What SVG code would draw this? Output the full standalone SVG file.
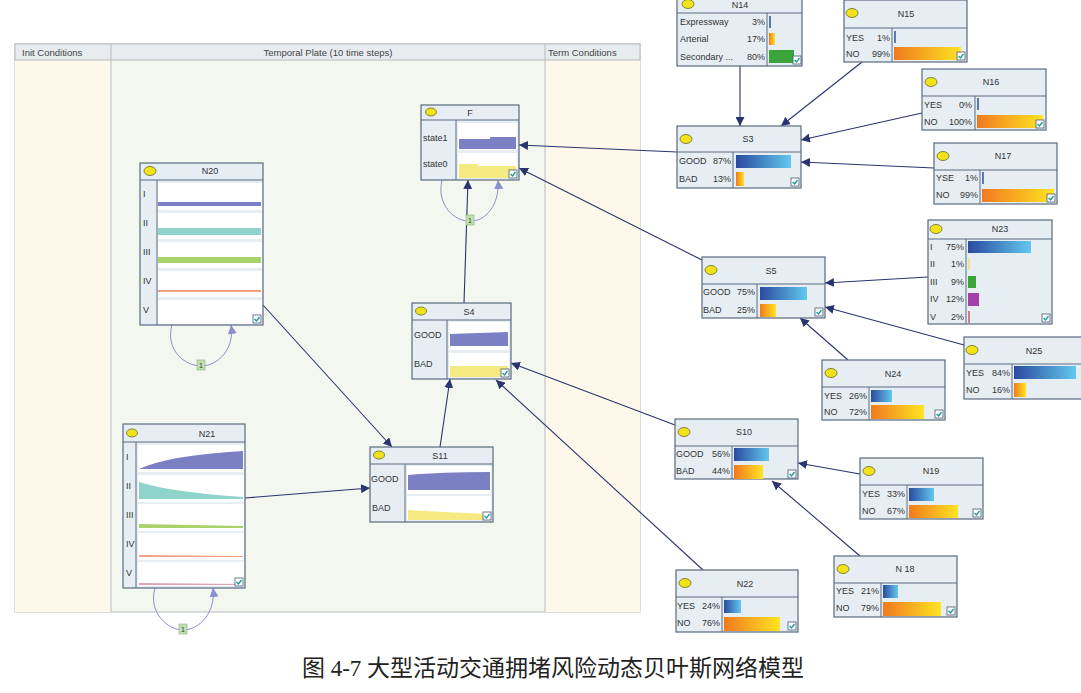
<svg xmlns="http://www.w3.org/2000/svg" width="1081" height="693" viewBox="0 0 1081 693">
<defs>
<linearGradient id="gb" x1="0" x2="1"><stop offset="0" stop-color="#2a4aa0"/><stop offset="1" stop-color="#62c8ee"/></linearGradient>
<linearGradient id="go" x1="0" x2="1"><stop offset="0" stop-color="#f07a1e"/><stop offset="1" stop-color="#ffe422"/></linearGradient>
<marker id="ar" viewBox="0 0 10 10" refX="10" refY="5" markerWidth="9" markerHeight="9" orient="auto" markerUnits="userSpaceOnUse"><path d="M0,0L10,5L0,10z" fill="#2a3470"/></marker>
<marker id="al" viewBox="0 0 10 10" refX="10" refY="5" markerWidth="9" markerHeight="9" orient="auto" markerUnits="userSpaceOnUse"><path d="M0,0L10,5L0,10z" fill="#8a8fd0"/></marker>
</defs>
<style>
.box{fill:#e6eef3;stroke:#5a6a80;stroke-width:1.2}
.tl{stroke:#5a6a80;stroke-width:1}
.ic{fill:#f2e21a;stroke:#6a6a30;stroke-width:0.8}
text{font-family:"Liberation Sans",Arial,sans-serif;font-size:9px;fill:#333}
.tt{text-anchor:middle}
.r{text-anchor:end}
.chk{fill:#fff;stroke:#4a5a70;stroke-width:0.8}
.ck{fill:none;stroke:#1a9a9a;stroke-width:1.3}
.cn{stroke:#2a3470;stroke-width:1.1;fill:none;marker-end:url(#ar)}
.lp{stroke:#8a8fd0;stroke-width:1;fill:none;marker-end:url(#al)}
.lb{fill:#bfe0b0;stroke:#8ab080;stroke-width:0.6}
.wh{fill:#fff}
.hd{font-size:9.5px;fill:#444}
</style>
<rect width="1081" height="693" fill="#fff"/>
<g id="plate">
<rect x="15" y="44" width="625" height="568" fill="#f3f7ef" stroke="#b8bcc0"/>
<rect x="15" y="60" width="96" height="552" fill="#fdf8ea"/>
<rect x="545" y="60" width="95" height="552" fill="#fdf8ea"/>
<rect x="15" y="44" width="625" height="16" fill="#e8ecef" stroke="#b8bcc0"/>
<line x1="111" y1="44" x2="111" y2="612" stroke="#b8bcc0"/>
<line x1="545" y1="44" x2="545" y2="612" stroke="#b8bcc0"/>
<text x="22" y="56" class="hd">Init Conditions</text>
<text x="328" y="56" class="hd tt">Temporal Plate (10 time steps)</text>
<text x="548" y="56" class="hd">Term Conditions</text>
</g>
<g id="connectors">
<line class="cn" x1="740" y1="66" x2="740" y2="126"/>
<line class="cn" x1="862" y1="62" x2="781" y2="126"/>
<line class="cn" x1="922" y1="113" x2="801" y2="140"/>
<line class="cn" x1="934" y1="168" x2="801" y2="162"/>
<line class="cn" x1="677" y1="152" x2="519" y2="145"/>
<line class="cn" x1="702" y1="260" x2="519" y2="168"/>
<line class="cn" x1="928" y1="277" x2="825" y2="283"/>
<line class="cn" x1="964" y1="345" x2="825" y2="307"/>
<line class="cn" x1="848" y1="360" x2="800" y2="318"/>
<line class="cn" x1="675" y1="425" x2="511" y2="363"/>
<line class="cn" x1="860" y1="474" x2="798" y2="463"/>
<line class="cn" x1="860" y1="556" x2="772" y2="481"/>
<line class="cn" x1="703" y1="570" x2="496" y2="380"/>
<line class="cn" x1="263" y1="305" x2="392" y2="447"/>
<line class="cn" x1="245" y1="498" x2="370" y2="488"/>
<line class="cn" x1="440" y1="447" x2="450" y2="379"/>
<line class="cn" x1="464" y1="303" x2="468" y2="180"/>
<path class="lp" d="M442,180 C436,205 455,222 470,221 C485,222 500,205 498,180"/>
<path class="lp" d="M172,325 C165,350 185,366 201,366 C217,366 235,350 231,325"/>
<path class="lp" d="M155,588 C148,613 168,630 183,630 C199,630 216,613 213,588"/>
<rect class="lb" x="466" y="215" width="8" height="10"/><text x="470" y="223" class="tt" style="font-size:7px">1</text>
<rect class="lb" x="197" y="360" width="8" height="10"/><text x="201" y="368" class="tt" style="font-size:7px">1</text>
<rect class="lb" x="179" y="624" width="8" height="10"/><text x="183" y="632" class="tt" style="font-size:7px">1</text>
</g>

<g id="N14"><rect class="box" x="677" y="-4" width="125" height="70"/><line class="tl" x1="677" y1="13" x2="802" y2="13"/><line class="tl" x1="767" y1="13" x2="767" y2="66"/>
<ellipse class="ic" cx="688" cy="4" rx="6" ry="4.5"/><text x="740" y="8" class="tt">N14</text>
<text x="680" y="25">Expressway</text><text x="765" y="25" class="r">3%</text>
<text x="680" y="42">Arterial</text><text x="765" y="42" class="r">17%</text>
<text x="680" y="60">Secondary ...</text><text x="765" y="60" class="r">80%</text>
<rect x="769" y="16" width="2" height="12" fill="#5a7ab0"/><rect x="769" y="33" width="6" height="12" fill="url(#go)"/><rect x="769" y="50" width="25" height="13" fill="#3aa53a"/>
<rect class="chk" x="793" y="56" width="8" height="8"/><path class="ck" d="M794.5,60 l2,2 l3,-4"/></g>

<g id="N15"><rect class="box" x="844" y="0" width="123" height="62"/><line class="tl" x1="844" y1="28" x2="967" y2="28"/><line class="tl" x1="892" y1="28" x2="892" y2="62"/>
<ellipse class="ic" cx="852" cy="13" rx="6" ry="4.5"/><text x="906" y="17" class="tt">N15</text>
<text x="846" y="41">YES</text><text x="890" y="41" class="r">1%</text><text x="846" y="57">NO</text><text x="890" y="57" class="r">99%</text>
<rect x="894" y="31" width="2" height="12" fill="#5a7ab0"/><rect x="894" y="47" width="67" height="13" fill="url(#go)"/>
<rect class="chk" x="957" y="52" width="8" height="8"/><path class="ck" d="M958.5,56 l2,2 l3,-4"/></g>

<g id="N16"><rect class="box" x="922" y="69" width="124" height="61"/><line class="tl" x1="922" y1="96" x2="1046" y2="96"/><line class="tl" x1="975" y1="96" x2="975" y2="130"/>
<ellipse class="ic" cx="931" cy="82" rx="6" ry="4.5"/><text x="991" y="85" class="tt">N16</text>
<text x="924" y="108">YES</text><text x="972" y="108" class="r">0%</text><text x="924" y="125">NO</text><text x="972" y="125" class="r">100%</text>
<rect x="977" y="98" width="2" height="12" fill="#5a7ab0"/><rect x="977" y="115" width="66" height="13" fill="url(#go)"/>
<rect class="chk" x="1036" y="120" width="8" height="8"/><path class="ck" d="M1037.5,124 l2,2 l3,-4"/></g>

<g id="N17"><rect class="box" x="934" y="143" width="123" height="61"/><line class="tl" x1="934" y1="170" x2="1057" y2="170"/><line class="tl" x1="980" y1="170" x2="980" y2="204"/>
<ellipse class="ic" cx="943" cy="156" rx="6" ry="4.5"/><text x="1003" y="159" class="tt">N17</text>
<text x="936" y="181">YSE</text><text x="978" y="181" class="r">1%</text><text x="936" y="198">NO</text><text x="978" y="198" class="r">99%</text>
<rect x="982" y="172" width="2" height="12" fill="#5a7ab0"/><rect x="982" y="189" width="72" height="13" fill="url(#go)"/>
<rect class="chk" x="1047" y="194" width="8" height="8"/><path class="ck" d="M1048.5,198 l2,2 l3,-4"/></g>

<g id="S3"><rect class="box" x="677" y="126" width="124" height="62"/><line class="tl" x1="677" y1="152" x2="801" y2="152"/><line class="tl" x1="733" y1="152" x2="733" y2="188"/>
<ellipse class="ic" cx="686" cy="139" rx="6" ry="4.5"/><text x="748" y="142" class="tt">S3</text>
<text x="679" y="164">GOOD</text><text x="731" y="164" class="r">87%</text><text x="679" y="182">BAD</text><text x="731" y="182" class="r">13%</text>
<rect x="736" y="155" width="55" height="13" fill="url(#gb)"/><rect x="736" y="172" width="8" height="14" fill="url(#go)"/>
<rect class="chk" x="791" y="178" width="8" height="8"/><path class="ck" d="M792.5,182 l2,2 l3,-4"/></g>

<g id="N23"><rect class="box" x="928" y="220" width="124" height="104"/><line class="tl" x1="928" y1="239" x2="1052" y2="239"/><line class="tl" x1="966" y1="239" x2="966" y2="324"/>
<ellipse class="ic" cx="936" cy="229" rx="6" ry="4.5"/><text x="1000" y="232" class="tt">N23</text>
<text x="930" y="250">I</text><text x="964" y="250" class="r">75%</text>
<text x="930" y="267">II</text><text x="964" y="267" class="r">1%</text>
<text x="930" y="285">III</text><text x="964" y="285" class="r">9%</text>
<text x="930" y="302">IV</text><text x="964" y="302" class="r">12%</text>
<text x="930" y="320">V</text><text x="964" y="320" class="r">2%</text>
<rect x="968" y="241" width="63" height="12" fill="url(#gb)"/><rect x="968" y="258" width="2" height="12" fill="#f8e080"/><rect x="968" y="276" width="8" height="12" fill="#3aa53a"/><rect x="968" y="293" width="11" height="13" fill="#a040a8"/><rect x="968" y="311" width="2" height="12" fill="#d08080"/>
<rect class="chk" x="1042" y="314" width="8" height="8"/><path class="ck" d="M1043.5,318 l2,2 l3,-4"/></g>

<g id="S5"><rect class="box" x="702" y="257" width="123" height="61"/><line class="tl" x1="702" y1="284" x2="825" y2="284"/><line class="tl" x1="757" y1="284" x2="757" y2="318"/>
<ellipse class="ic" cx="711" cy="270" rx="6" ry="4.5"/><text x="771" y="274" class="tt">S5</text>
<text x="703" y="295">GOOD</text><text x="755" y="295" class="r">75%</text><text x="703" y="313">BAD</text><text x="755" y="313" class="r">25%</text>
<rect x="760" y="287" width="47" height="13" fill="url(#gb)"/><rect x="760" y="304" width="16" height="13" fill="url(#go)"/>
<rect class="chk" x="815" y="308" width="8" height="8"/><path class="ck" d="M816.5,312 l2,2 l3,-4"/></g>

<g id="N24"><rect class="box" x="822" y="360" width="123" height="60"/><line class="tl" x1="822" y1="387" x2="945" y2="387"/><line class="tl" x1="869" y1="387" x2="869" y2="420"/>
<ellipse class="ic" cx="831" cy="373" rx="6" ry="4.5"/><text x="893" y="377" class="tt">N24</text>
<text x="824" y="399">YES</text><text x="867" y="399" class="r">26%</text><text x="824" y="415">NO</text><text x="867" y="415" class="r">72%</text>
<rect x="871" y="390" width="21" height="12" fill="url(#gb)"/><rect x="871" y="405" width="53" height="14" fill="url(#go)"/>
<rect class="chk" x="935" y="410" width="8" height="8"/><path class="ck" d="M936.5,414 l2,2 l3,-4"/></g>

<g id="N25"><rect class="box" x="964" y="337" width="122" height="62"/><line class="tl" x1="964" y1="364" x2="1086" y2="364"/><line class="tl" x1="1012" y1="364" x2="1012" y2="399"/>
<ellipse class="ic" cx="972" cy="350" rx="6" ry="4.5"/><text x="1034" y="354" class="tt">N25</text>
<text x="966" y="376">YES</text><text x="1010" y="376" class="r">84%</text><text x="966" y="393">NO</text><text x="1010" y="393" class="r">16%</text>
<rect x="1014" y="366" width="62" height="13" fill="url(#gb)"/><rect x="1014" y="383" width="12" height="14" fill="url(#go)"/></g>

<g id="S10"><rect class="box" x="675" y="419" width="123" height="60"/><line class="tl" x1="675" y1="446" x2="798" y2="446"/><line class="tl" x1="732" y1="446" x2="732" y2="479"/>
<ellipse class="ic" cx="684" cy="432" rx="6" ry="4.5"/><text x="744" y="435" class="tt">S10</text>
<text x="676" y="457">GOOD</text><text x="730" y="457" class="r">56%</text><text x="676" y="474">BAD</text><text x="730" y="474" class="r">44%</text>
<rect x="734" y="448" width="35" height="13" fill="url(#gb)"/><rect x="734" y="465" width="29" height="14" fill="url(#go)"/>
<rect class="chk" x="788" y="470" width="8" height="8"/><path class="ck" d="M789.5,474 l2,2 l3,-4"/></g>

<g id="N19"><rect class="box" x="860" y="458" width="123" height="61"/><line class="tl" x1="860" y1="485" x2="983" y2="485"/><line class="tl" x1="907" y1="485" x2="907" y2="519"/>
<ellipse class="ic" cx="869" cy="471" rx="6" ry="4.5"/><text x="931" y="474" class="tt">N19</text>
<text x="862" y="497">YES</text><text x="905" y="497" class="r">33%</text><text x="862" y="514">NO</text><text x="905" y="514" class="r">67%</text>
<rect x="909" y="488" width="25" height="13" fill="url(#gb)"/><rect x="909" y="505" width="49" height="13" fill="url(#go)"/>
<rect class="chk" x="973" y="509" width="8" height="8"/><path class="ck" d="M974.5,513 l2,2 l3,-4"/></g>

<g id="N18"><rect class="box" x="834" y="556" width="123" height="61"/><line class="tl" x1="834" y1="583" x2="957" y2="583"/><line class="tl" x1="881" y1="583" x2="881" y2="617"/>
<ellipse class="ic" cx="843" cy="569" rx="6" ry="4.5"/><text x="905" y="572" class="tt">N 18</text>
<text x="836" y="594">YES</text><text x="879" y="594" class="r">21%</text><text x="836" y="611">NO</text><text x="879" y="611" class="r">79%</text>
<rect x="883" y="585" width="15" height="13" fill="url(#gb)"/><rect x="883" y="602" width="58" height="14" fill="url(#go)"/>
<rect class="chk" x="947" y="607" width="8" height="8"/><path class="ck" d="M948.5,611 l2,2 l3,-4"/></g>

<g id="N22"><rect class="box" x="676" y="570" width="122" height="62"/><line class="tl" x1="676" y1="597" x2="798" y2="597"/><line class="tl" x1="722" y1="597" x2="722" y2="632"/>
<ellipse class="ic" cx="685" cy="583" rx="6" ry="4.5"/><text x="745" y="587" class="tt">N22</text>
<text x="677" y="609">YES</text><text x="720" y="609" class="r">24%</text><text x="677" y="626">NO</text><text x="720" y="626" class="r">76%</text>
<rect x="724" y="600" width="17" height="13" fill="url(#gb)"/><rect x="724" y="617" width="56" height="14" fill="url(#go)"/>
<rect class="chk" x="788" y="622" width="8" height="8"/><path class="ck" d="M789.5,626 l2,2 l3,-4"/></g>

<g id="F"><rect class="box" x="421" y="105" width="98" height="75"/><line class="tl" x1="421" y1="120" x2="519" y2="120"/><line class="tl" x1="456" y1="120" x2="456" y2="180"/>
<ellipse class="ic" cx="431" cy="112" rx="5.5" ry="4"/><text x="470" y="116" class="tt">F</text>
<rect class="wh" x="458" y="123" width="59" height="27"/><rect class="wh" x="458" y="153" width="59" height="25"/>
<path d="M459,139 L490,139 L490,137 L516,137 L516,149 L459,149z" fill="#7b7fc4"/>
<path d="M459,164 L478,164 L478,166 L516,166 L516,178 L459,178z" fill="#f5ea82"/>
<text x="423" y="141">state1</text><text x="423" y="167">state0</text>
<rect class="chk" x="509" y="170" width="8" height="8"/><path class="ck" d="M510.5,174 l2,2 l3,-4"/></g>

<g id="N20"><rect class="box" x="140" y="163" width="123" height="162"/><line class="tl" x1="140" y1="180" x2="263" y2="180"/><line class="tl" x1="157" y1="180" x2="157" y2="325"/>
<ellipse class="ic" cx="150" cy="171" rx="6" ry="4.5"/><text x="210" y="174" class="tt">N20</text>
<rect class="wh" x="158" y="183" width="104" height="27"/><rect class="wh" x="158" y="213" width="104" height="26"/><rect class="wh" x="158" y="242" width="104" height="26"/><rect class="wh" x="158" y="271" width="104" height="26"/><rect class="wh" x="158" y="300" width="104" height="24"/>
<rect x="158" y="202" width="103" height="4" fill="#7b7fc4"/><rect x="158" y="228" width="103" height="7" fill="#8fd4cc"/><rect x="158" y="257" width="103" height="6" fill="#a8d26a"/><rect x="158" y="290" width="103" height="2" fill="#f0a080"/>
<text x="143" y="197">I</text><text x="143" y="226">II</text><text x="143" y="255">III</text><text x="143" y="284">IV</text><text x="143" y="313">V</text>
<rect class="chk" x="253" y="315" width="8" height="8"/><path class="ck" d="M254.5,319 l2,2 l3,-4"/></g>

<g id="S4"><rect class="box" x="412" y="303" width="99" height="76"/><line class="tl" x1="412" y1="320" x2="511" y2="320"/><line class="tl" x1="447" y1="320" x2="447" y2="379"/>
<ellipse class="ic" cx="421" cy="311" rx="5.5" ry="4"/><text x="469" y="315" class="tt">S4</text>
<rect class="wh" x="449" y="322" width="60" height="28"/><rect class="wh" x="449" y="353" width="60" height="24"/>
<path d="M450,334 L508,332 L508,346 L450,346z" fill="#7b7fc4"/><rect x="450" y="366" width="58" height="11" fill="#f5ea82"/>
<text x="414" y="338">GOOD</text><text x="414" y="367">BAD</text>
<rect class="chk" x="501" y="369" width="8" height="8"/><path class="ck" d="M502.5,373 l2,2 l3,-4"/></g>

<g id="S11"><rect class="box" x="370" y="447" width="123" height="75"/><line class="tl" x1="370" y1="464" x2="493" y2="464"/><line class="tl" x1="405" y1="464" x2="405" y2="522"/>
<ellipse class="ic" cx="379" cy="455" rx="5.5" ry="4"/><text x="440" y="459" class="tt">S11</text>
<rect class="wh" x="407" y="466" width="84" height="28"/><rect class="wh" x="407" y="496" width="84" height="24"/>
<path d="M408,475 Q440,472 490,472 L490,490 L408,490z" fill="#7b7fc4"/><path d="M408,510 Q440,512 490,514 L490,520 L408,520z" fill="#f5ea82"/>
<text x="371" y="482">GOOD</text><text x="372" y="511">BAD</text>
<rect class="chk" x="483" y="512" width="8" height="8"/><path class="ck" d="M484.5,516 l2,2 l3,-4"/></g>

<g id="N21"><rect class="box" x="123" y="424" width="122" height="164"/><line class="tl" x1="123" y1="442" x2="245" y2="442"/><line class="tl" x1="136" y1="442" x2="136" y2="588"/>
<ellipse class="ic" cx="132" cy="433" rx="5.5" ry="4"/><text x="207" y="437" class="tt">N21</text>
<rect class="wh" x="138" y="445" width="106" height="27"/><rect class="wh" x="138" y="475" width="106" height="27"/><rect class="wh" x="138" y="504" width="106" height="27"/><rect class="wh" x="138" y="533" width="106" height="27"/><rect class="wh" x="138" y="562" width="106" height="24"/>
<path d="M139,469 Q170,455 243,451 L243,469z" fill="#7b7fc4"/>
<path d="M139,482 Q170,492 243,497 L243,499 L139,499z" fill="#8fd4cc"/>
<path d="M139,524 L243,526 L243,528 L139,528z" fill="#a8d26a"/>
<path d="M139,555 L243,556 L243,557 L139,557z" fill="#f0a080"/>
<path d="M139,583 L243,584 L243,585 L139,585z" fill="#e0a0b0"/>
<text x="126" y="460">I</text><text x="126" y="489">II</text><text x="126" y="518">III</text><text x="126" y="547">IV</text><text x="126" y="576">V</text>
<rect class="chk" x="235" y="578" width="8" height="8"/><path class="ck" d="M236.5,582 l2,2 l3,-4"/></g>

<text x="553" y="676" style="font-family:'Liberation Serif','Noto Sans CJK SC',serif;font-size:23px;fill:#222" text-anchor="middle">图 4-7  大型活动交通拥堵风险动态贝叶斯网络模型</text>
</svg>
